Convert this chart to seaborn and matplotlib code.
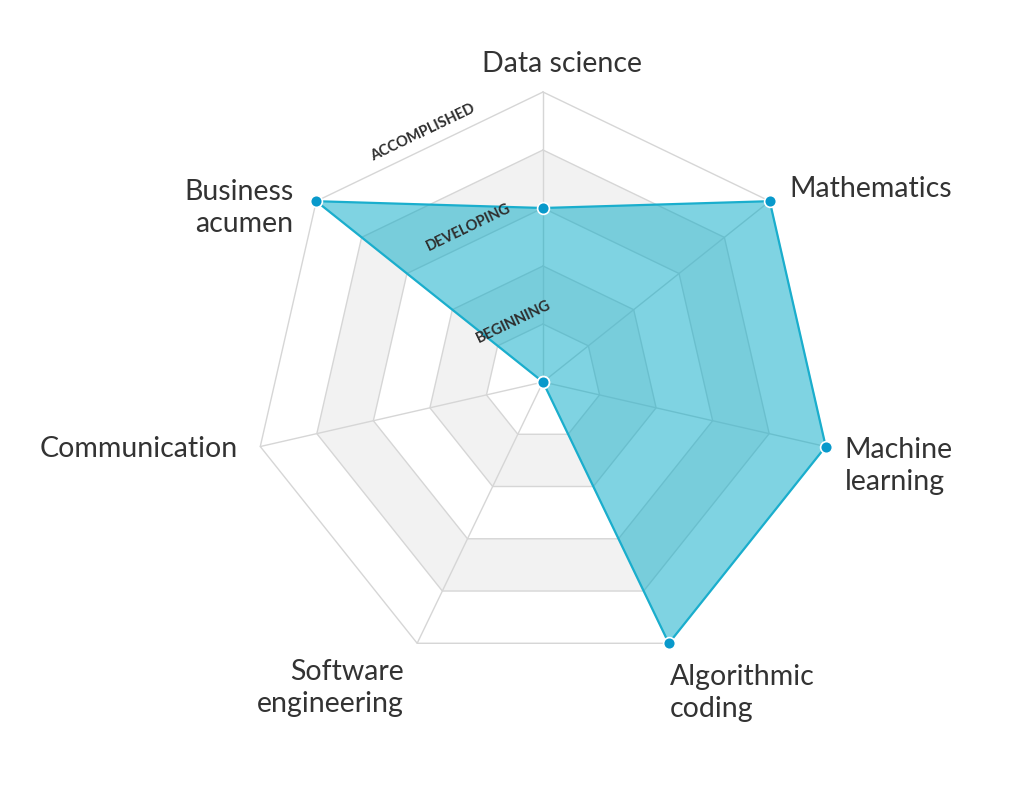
import numpy as np
import pandas as pd
import matplotlib
matplotlib.use('Agg')
import matplotlib.pyplot as plt
import seaborn as sns

# Data
skills = ['Data science', 'Mathematics', 'Machine\nlearning', 'Algorithmic\ncoding',
          'Software\nengineering', 'Communication', 'Business\nacumen']
scores = [3, 5, 5, 5, 0, 0, 5]
max_level = 5
level_names = ['BEGINNING', 'DEVELOPING', 'ACCOMPLISHED']
level_steps = [1, 3, 5]

sns.set_theme(style='white')
plt.rcParams['font.family'] = ['Lato', 'DejaVu Sans']

n = len(skills)
angles = np.pi / 2 - np.arange(n) * 2 * np.pi / n   # clockwise, starting at the top


def to_xy(r):
    r = np.asarray(r, dtype=float)
    return r * np.cos(angles), r * np.sin(angles)


df = pd.DataFrame({'skill': skills, 'score': scores})
df['x'], df['y'] = to_xy(df['score'])

fig = plt.figure(figsize=(10.24, 8.10), dpi=100)
ax = fig.add_axes([0, 0, 1, 1])

# grid: alternating grey / white bands
for lev in range(max_level, 0, -1):
    gx, gy = to_xy(np.full(n, lev))
    ax.fill(gx, gy, color='#f2f2f2' if lev % 2 == 0 else 'white', lw=0, zorder=1)
    ax.plot(np.append(gx, gx[0]), np.append(gy, gy[0]), color='#d6d6d6', lw=1, zorder=2)
ox, oy = to_xy(np.full(n, max_level))
for x, y in zip(ox, oy):
    ax.plot([0, x], [0, y], color='#d6d6d6', lw=1, zorder=2)

# the skill profile
ax.fill(df['x'], df['y'], color='#00a9c6', alpha=0.5, lw=0, zorder=3)
closed = pd.concat([df, df.iloc[:1]], ignore_index=True)
sns.lineplot(data=closed, x='x', y='y', sort=False, estimator=None,
             color='#1aaecd', lw=1.6, ax=ax, zorder=4)
sns.scatterplot(data=df, x='x', y='y', color='#0899cb', s=72,
                edgecolor='white', linewidth=1.2, ax=ax, zorder=5)

# axis labels: pixel offset from the outer vertex to the baseline of the last line
label_pos = [(19, 20, 'center'), (20, 4, 'left'), (19, -43.5, 'left'), (1, -74, 'left'),
             (-13, -69, 'right'), (-22, -10.5, 'right'), (-23, -30.5, 'right')]
for x, y, lab, (dx, dy, ha) in zip(ox, oy, skills, label_pos):
    ax.annotate(lab, (x, y), xytext=(dx * 0.72, dy * 0.72), textcoords='offset points',
                ha=ha, va='baseline', fontsize=20.5, color='#333333', linespacing=1.28)

# level names along the first sector
mid = np.pi / 2 + np.pi / n
rot = np.degrees(mid) - 90
for name, lev in zip(level_names, level_steps):
    d = lev * np.cos(np.pi / n) + 0.26
    ax.text(d * np.cos(mid), d * np.sin(mid), name, rotation=rot, rotation_mode='anchor',
            ha='center', va='center', fontsize=10.5, fontweight='bold', color='#2e2e2e', zorder=6)

# 1 unit = 58 px, centre of the web at pixel (543, 382)
u = 58
ax.set_xlim(-543 / u, (1024 - 543) / u)
ax.set_ylim(-(810 - 382) / u, 382 / u)
ax.axis('off')

fig.savefig('out.png', dpi=100)
